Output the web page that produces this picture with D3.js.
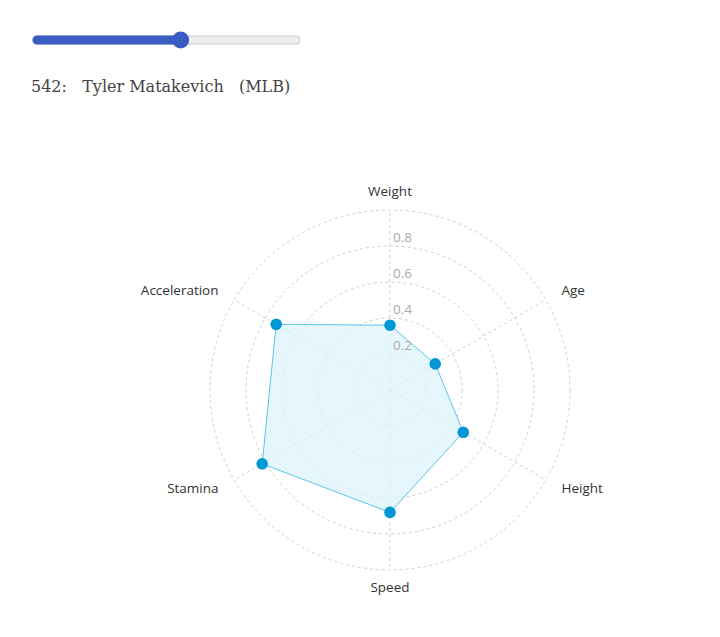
<!DOCTYPE html>
<html>
<head>
<meta charset="utf-8">
<script src="https://cdn.jsdelivr.net/npm/d3@7"></script>
<style>
  html, body { margin: 0; padding: 0; background: #fff; }
  svg { display: block; }
</style>
</head>
<body>
<svg id="chart" width="720" height="637"></svg>
<script>
const axes = ["Weight", "Age", "Height", "Speed", "Stamina", "Acceleration"];
const values = [0.36, 0.29, 0.47, 0.68, 0.82, 0.73];
const ringTicks = [0.2, 0.4, 0.6, 0.8, 1.0];
const tickLabels = ["0.2", "0.4", "0.6", "0.8"];
const sliderMin = 0, sliderMax = 1000, sliderValue = 542;
const titleText = "542:   Tyler Matakevich   (MLB)";

const svg = d3.select("#chart");

// Slider
const sx = d3.scaleLinear().domain([sliderMin, sliderMax]).range([37, 302]);
const trackEnd = 296;
const sl = svg.append("g");
sl.append("line").attr("x1", sx(sliderMin)).attr("x2", trackEnd).attr("y1", 40).attr("y2", 40)
  .attr("stroke", "#c8c8c8").attr("stroke-width", 9).attr("stroke-linecap", "round");
sl.append("line").attr("x1", sx(sliderMin)).attr("x2", trackEnd).attr("y1", 40).attr("y2", 40)
  .attr("stroke", "#efefef").attr("stroke-width", 7).attr("stroke-linecap", "round");
sl.append("line").attr("x1", sx(sliderMin)).attr("x2", sx(sliderValue)).attr("y1", 40).attr("y2", 40)
  .attr("stroke", "#3a5cc2").attr("stroke-width", 9).attr("stroke-linecap", "round");
sl.append("circle").attr("cx", sx(sliderValue)).attr("cy", 40).attr("r", 8.5).attr("fill", "#3a5cc2");

svg.append("text").attr("x", 31).attr("y", 92)
  .attr("font-family", "'DejaVu Serif', serif").attr("font-size", 16).attr("fill", "#444")
  .style("white-space", "pre").text(titleText);

// Radar
const cx = 390, cy = 390, R = 180;
const r = d3.scaleLinear().domain([0, 1]).range([0, R]);
const angle = d3.scalePoint().domain(axes).range([0, 2 * Math.PI * (axes.length - 1) / axes.length]);
const g = svg.append("g").attr("transform", `translate(${cx},${cy})`);
const pt = (a, v) => [Math.sin(angle(a)) * r(v), -Math.cos(angle(a)) * r(v)];

g.selectAll("circle.ring").data(ringTicks).join("circle").attr("class", "ring")
  .attr("r", d => r(d)).attr("fill", "none").attr("stroke", "#cfcfcf")
  .attr("stroke-width", 1).attr("stroke-dasharray", "3,3");

g.selectAll("line.spoke").data(axes).join("line").attr("class", "spoke")
  .attr("x1", 0).attr("y1", 0)
  .attr("x2", d => pt(d, 1)[0]).attr("y2", d => pt(d, 1)[1])
  .attr("stroke", "#cfcfcf").attr("stroke-width", 1).attr("stroke-dasharray", "3,3");

g.append("circle").attr("r", 2).attr("fill", "#ddd");

const line = d3.lineRadial().angle((d, i) => angle(axes[i])).radius(d => r(d)).curve(d3.curveLinearClosed);
g.append("path").datum(values).attr("d", line)
  .attr("fill", "#def3fc").attr("fill-opacity", 0.75)
  .attr("stroke", "#5cc6ea").attr("stroke-width", 1);

g.selectAll("circle.pt").data(values).join("circle").attr("class", "pt")
  .attr("cx", (d, i) => pt(axes[i], d)[0]).attr("cy", (d, i) => pt(axes[i], d)[1])
  .attr("r", 5.8).attr("fill", "#0097d7");

g.selectAll("text.tick").data(tickLabels).join("text").attr("class", "tick")
  .attr("x", 3).attr("y", d => -r(+d) - 4)
  .attr("font-family", "'Open Sans', sans-serif").attr("font-size", 13.5).attr("fill", "#aaa")
  .text(d => d);

g.selectAll("text.axis").data(axes).join("text").attr("class", "axis")
  .attr("x", d => Math.sin(angle(d)) * 198)
  .attr("y", d => -Math.cos(angle(d)) * 198)
  .attr("dy", "0.3em")
  .attr("text-anchor", d => { const s = Math.sin(angle(d)); return s > 0.01 ? "start" : (s < -0.01 ? "end" : "middle"); })
  .attr("font-family", "'Open Sans', sans-serif").attr("font-size", 13.5).attr("fill", "#333")
  .text(d => d);
</script>
</body>
</html>
